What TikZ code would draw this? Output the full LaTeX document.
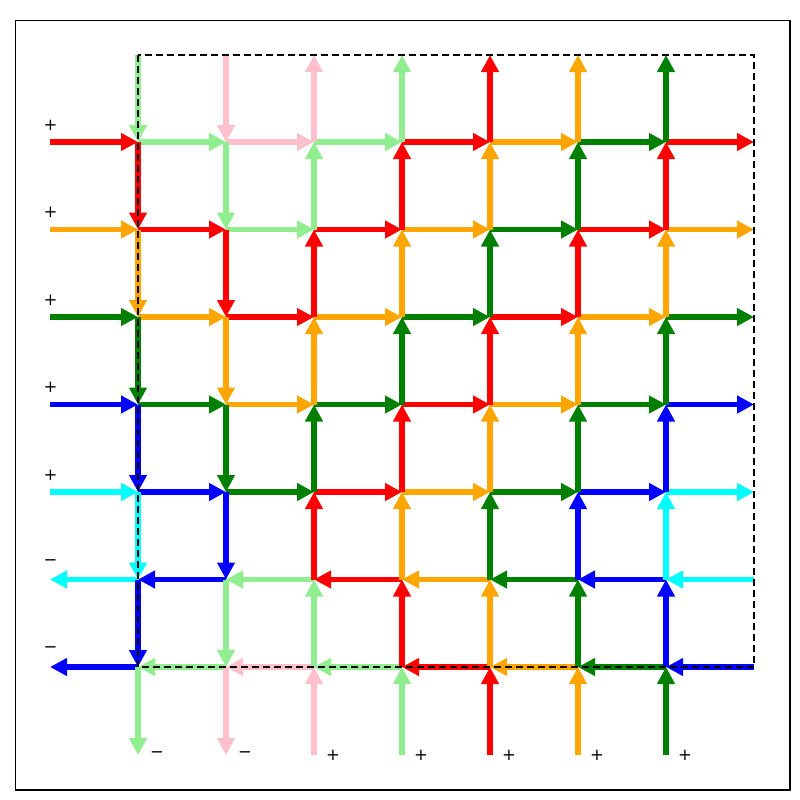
\documentclass[tikz,border=0pt]{standalone}
\usepackage{fontspec}
\setmainfont{DejaVu Sans}
\usetikzlibrary{arrows.meta}
\definecolor{cR}{HTML}{FF0000}
\definecolor{cO}{HTML}{FFA500}
\definecolor{cG}{HTML}{008000}
\definecolor{cLG}{HTML}{90EE90}
\definecolor{cP}{HTML}{FFC0CB}
\definecolor{cB}{HTML}{0000FF}
\definecolor{cC}{HTML}{00FFFF}
\begin{document}
\begin{tikzpicture}[x=1pt,y=-1pt,
  edge/.style={line width=5.8pt,-{Triangle[length=17pt,width=17pt]}},
  lab/.style={font=\fontsize{16.5}{18}\selectfont,inner sep=0pt},
  frame/.style={line width=1.2pt},
  box/.style={line width=1.8pt,dash pattern=on 7pt off 4pt}]
\useasboundingbox (0,0) rectangle (800,800);
% coordinates: g-a-b ; a=0 left end, a=1..8 columns ; b=0 top end, b=1..7 rows, b=8 bottom end
\foreach \a in {1,...,8}{
  \foreach \b in {1,...,7}{
    \coordinate (g-\a-\b) at ({138+88*(\a-1)},{142+87.5*(\b-1)});
  }
}
\foreach \b in {1,...,7}{
  \coordinate (g-0-\b) at (50,{142+87.5*(\b-1)});
}
\foreach \a in {1,...,7}{
  \coordinate (g-\a-0) at ({138+88*(\a-1)},55);
  \coordinate (g-\a-8) at ({138+88*(\a-1)},755);
}
% horizontal edges
\foreach \b/\cl in {
  1/{cR,cLG,cP,cLG,cR,cO,cG,cR},
  2/{cO,cR,cLG,cR,cO,cG,cR,cO},
  3/{cG,cO,cR,cO,cG,cR,cO,cG},
  4/{cB,cG,cO,cG,cR,cO,cG,cB},
  5/{cC,cB,cG,cR,cO,cG,cB,cC},
  6/{cC,cB,cLG,cR,cO,cG,cB,cC},
  7/{cB,cLG,cP,cLG,cR,cO,cG,cB}}{
  \foreach \c [count=\k] in \cl {
    \pgfmathtruncatemacro\km{\k-1}
    \ifnum\b<6
      \draw[edge,color=\c] (g-\km-\b) -- (g-\k-\b);
    \else
      \draw[edge,color=\c] (g-\k-\b) -- (g-\km-\b);
    \fi
  }
}
% vertical edges
\foreach \a/\cl in {
  1/{cLG,cR,cO,cG,cB,cC,cB,cLG},
  2/{cP,cLG,cR,cO,cG,cB,cLG,cP},
  3/{cP,cLG,cR,cO,cG,cR,cLG,cP},
  4/{cLG,cR,cO,cG,cR,cO,cR,cLG},
  5/{cR,cO,cG,cR,cO,cG,cO,cR},
  6/{cO,cG,cR,cO,cG,cB,cG,cO},
  7/{cG,cR,cO,cG,cB,cC,cB,cG}}{
  \foreach \c [count=\m] in \cl {
    \pgfmathtruncatemacro\mm{\m-1}
    \ifnum\a<3
      \draw[edge,color=\c] (g-\a-\mm) -- (g-\a-\m);
    \else
      \draw[edge,color=\c] (g-\a-\m) -- (g-\a-\mm);
    \fi
  }
}
% dashed box and frame
\draw[box] (g-1-0) rectangle (g-8-7);
\draw[frame] (15.5,20.5) rectangle (790,790);
% labels
\foreach \b/\s in {1/+,2/+,3/+,4/+,5/+,6/−,7/−}{
  \node[lab] (ll-\b) at (50.5,{142+87.5*(\b-1)-17}) {\s};
}
\foreach \a/\s in {1/−,2/−,3/+,4/+,5/+,6/+,7/+}{
  \node[lab] (bl-\a) at ({138+88*(\a-1)+19},755) {\s};
}
\end{tikzpicture}
\end{document}
